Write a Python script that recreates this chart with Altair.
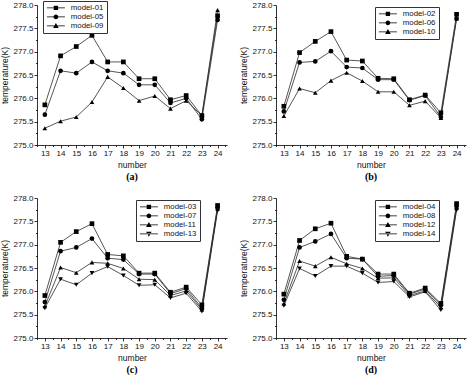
import math
import altair as alt
import pandas as pd

numbers = list(range(13, 25))

# panel (a)
m01 = [275.86, 276.91, 277.11, 277.35, 276.78, 276.78, 276.42, 276.42, 275.97, 276.06, 275.63, 277.77]
m05 = [275.65, 276.59, 276.54, 276.78, 276.59, 276.54, 276.29, 276.29, 275.90, 276.00, 275.55, 277.68]
m09 = [275.36, 275.51, 275.60, 275.92, 276.46, 276.22, 275.95, 276.05, 275.78, 275.95, 275.63, 277.89]
# panel (b)
m02 = [275.83, 276.98, 277.22, 277.43, 276.82, 276.80, 276.43, 276.42, 275.97, 276.07, 275.69, 277.80]
m06 = [275.72, 276.77, 276.79, 277.01, 276.67, 276.65, 276.40, 276.40, 275.96, 276.06, 275.60, 277.71]
m10 = [275.62, 276.21, 276.12, 276.38, 276.55, 276.37, 276.14, 276.14, 275.85, 275.94, 275.58, 277.71]
# panel (c)
m03 = [275.91, 277.05, 277.28, 277.45, 276.79, 276.76, 276.39, 276.39, 275.98, 276.09, 275.71, 277.84]
m07 = [275.77, 276.86, 276.94, 277.13, 276.71, 276.68, 276.37, 276.37, 275.95, 276.06, 275.64, 277.79]
m11 = [275.68, 276.51, 276.40, 276.62, 276.60, 276.49, 276.26, 276.25, 275.91, 276.01, 275.61, 277.77]
m13 = [275.64, 276.26, 276.14, 276.39, 276.53, 276.34, 276.13, 276.14, 275.86, 275.96, 275.57, 277.73]
# panel (d)
m04 = [275.94, 277.09, 277.34, 277.46, 276.75, 276.69, 276.37, 276.37, 275.96, 276.07, 275.74, 277.88]
m08 = [275.82, 276.94, 277.07, 277.23, 276.71, 276.69, 276.32, 276.34, 275.94, 276.05, 275.70, 277.82]
m12 = [275.74, 276.65, 276.54, 276.73, 276.59, 276.49, 276.28, 276.29, 275.91, 276.01, 275.66, 277.79]
m14 = [275.69, 276.49, 276.33, 276.54, 276.54, 276.39, 276.19, 276.21, 275.88, 275.99, 275.60, 277.74]

panels = [
    ("(a)", [("model-01", m01), ("model-05", m05), ("model-09", m09)], "left"),
    ("(b)", [("model-02", m02), ("model-06", m06), ("model-10", m10)], "right"),
    ("(c)", [("model-03", m03), ("model-07", m07), ("model-11", m11), ("model-13", m13)], "right"),
    ("(d)", [("model-04", m04), ("model-08", m08), ("model-12", m12), ("model-14", m14)], "right"),
]

# marker shapes for data points
point_shapes = ["square", "circle", "triangle-up", "triangle-down"]

# legend symbols: a short line with the marker in the middle (custom filled paths)
def poly(pts):
    return "M" + "L".join(f"{x:.3f},{y:.3f}" for x, y in pts) + "Z"

U = 1.5  # pixels per path unit for symbolSize=9
def px(v):
    return v / U

c = px(6)
line = poly([(px(-3), px(-0.45)), (px(15), px(-0.45)), (px(15), px(0.45)), (px(-3), px(0.45))])
h = px(2.2)
sq = poly([(c - h, -h), (c + h, -h), (c + h, h), (c - h, h)])
r = px(2.4)
circ = poly([(c + r * math.cos(a * math.pi / 8), r * math.sin(a * math.pi / 8)) for a in range(16)])
t = px(2.8)
tup = poly([(c, -t), (c + t, t * 0.75), (c - t, t * 0.75)])
tdn = poly([(c, t), (c + t, -t * 0.75), (c - t, -t * 0.75)])
legend_shapes = [line + sq, line + circ, line + tup, line + tdn]

FONT = "Liberation Sans"

x_vals = [v / 2 for v in range(25, 50)]
y_vals = [275 + v * 0.25 for v in range(13)]


def make_panel(cap, series, side):
    rows = []
    for name, vals in series:
        for n, v in zip(numbers, vals):
            rows.append({"number": n, "temp": v, "model": name})
    df = pd.DataFrame(rows)
    order = [s[0] for s in series]
    k = len(order)
    x = alt.X("number:Q", scale=alt.Scale(domain=[12.5, 24.6], nice=False, zero=False),
              axis=alt.Axis(values=x_vals, labelExpr="datum.value % 1 == 0 ? datum.label : ''",
                            format=".0f", title="number",
                            tickSize={"condition": {"test": "datum.value % 1 == 0", "value": 3}, "value": 1.5}))
    y = alt.Y("temp:Q", scale=alt.Scale(domain=[275, 278], nice=False, zero=False),
              axis=alt.Axis(values=y_vals, labelExpr="(datum.value*2) % 1 == 0 ? datum.label : ''",
                            format=".1f", title="temperature(K)",
                            tickSize={"condition": {"test": "(datum.value*2) % 1 == 0", "value": 3}, "value": 1.5}))
    base = alt.Chart(df)
    lines = base.mark_line(color="#2a2a2a", strokeWidth=0.8).encode(x=x, y=y, detail="model:N")
    pts = base.mark_point(filled=True, color="black", opacity=1, size=22).encode(
        x=x, y=y,
        shape=alt.Shape("model:N", scale=alt.Scale(domain=order, range=point_shapes[:k]), legend=None),
    )
    lx = 6 if side == "left" else 99
    ly = -4 if side == "left" else 2
    leg = base.mark_point(filled=True, color="black", opacity=0, size=9).encode(
        x=x, y=y,
        shape=alt.Shape("model:N", scale=alt.Scale(domain=order, range=legend_shapes[:k]),
                        legend=alt.Legend(title=None, orient="none", legendX=lx, legendY=ly,
                                          symbolSize=9, symbolOpacity=1, symbolFillColor="black",
                                          symbolStrokeWidth=0,
                                          labelFont=FONT, labelFontSize=7.8, labelOffset=17,
                                          labelColor="#111111",
                                          rowPadding=0, padding=3, strokeColor="#333333",
                                          fillColor="white", cornerRadius=0)),
    )
    return alt.layer(lines, pts, leg).resolve_scale(shape="independent").properties(
        width=190, height=140,
        title=alt.TitleParams(cap, orient="bottom", font="Liberation Serif", fontWeight="bold",
                              fontSize=10, offset=3),
    )


pa, pb, pc, pd_ = [make_panel(*p) for p in panels]
top = alt.hconcat(pa, pb, spacing=6).resolve_scale(shape="independent").resolve_legend(shape="independent")
bot = alt.hconcat(pc, pd_, spacing=6).resolve_scale(shape="independent").resolve_legend(shape="independent")
chart = alt.vconcat(top, bot, spacing=12).resolve_scale(shape="independent").resolve_legend(
    shape="independent"
).properties(padding={"left": 0, "top": 0, "right": 0, "bottom": 0}).configure_view(
    stroke=None
).configure_axis(
    labelFont=FONT, titleFont=FONT, labelFontSize=8, titleFontSize=8.5, titleFontWeight="normal",
    domainColor="black", tickColor="black", labelColor="#111111", titleColor="#111111",
    grid=False, labelPadding=1, titlePadding=3, domainWidth=0.8, tickWidth=0.8,
)

chart.save("out.html", embed_options={"renderer": "svg", "actions": False})
